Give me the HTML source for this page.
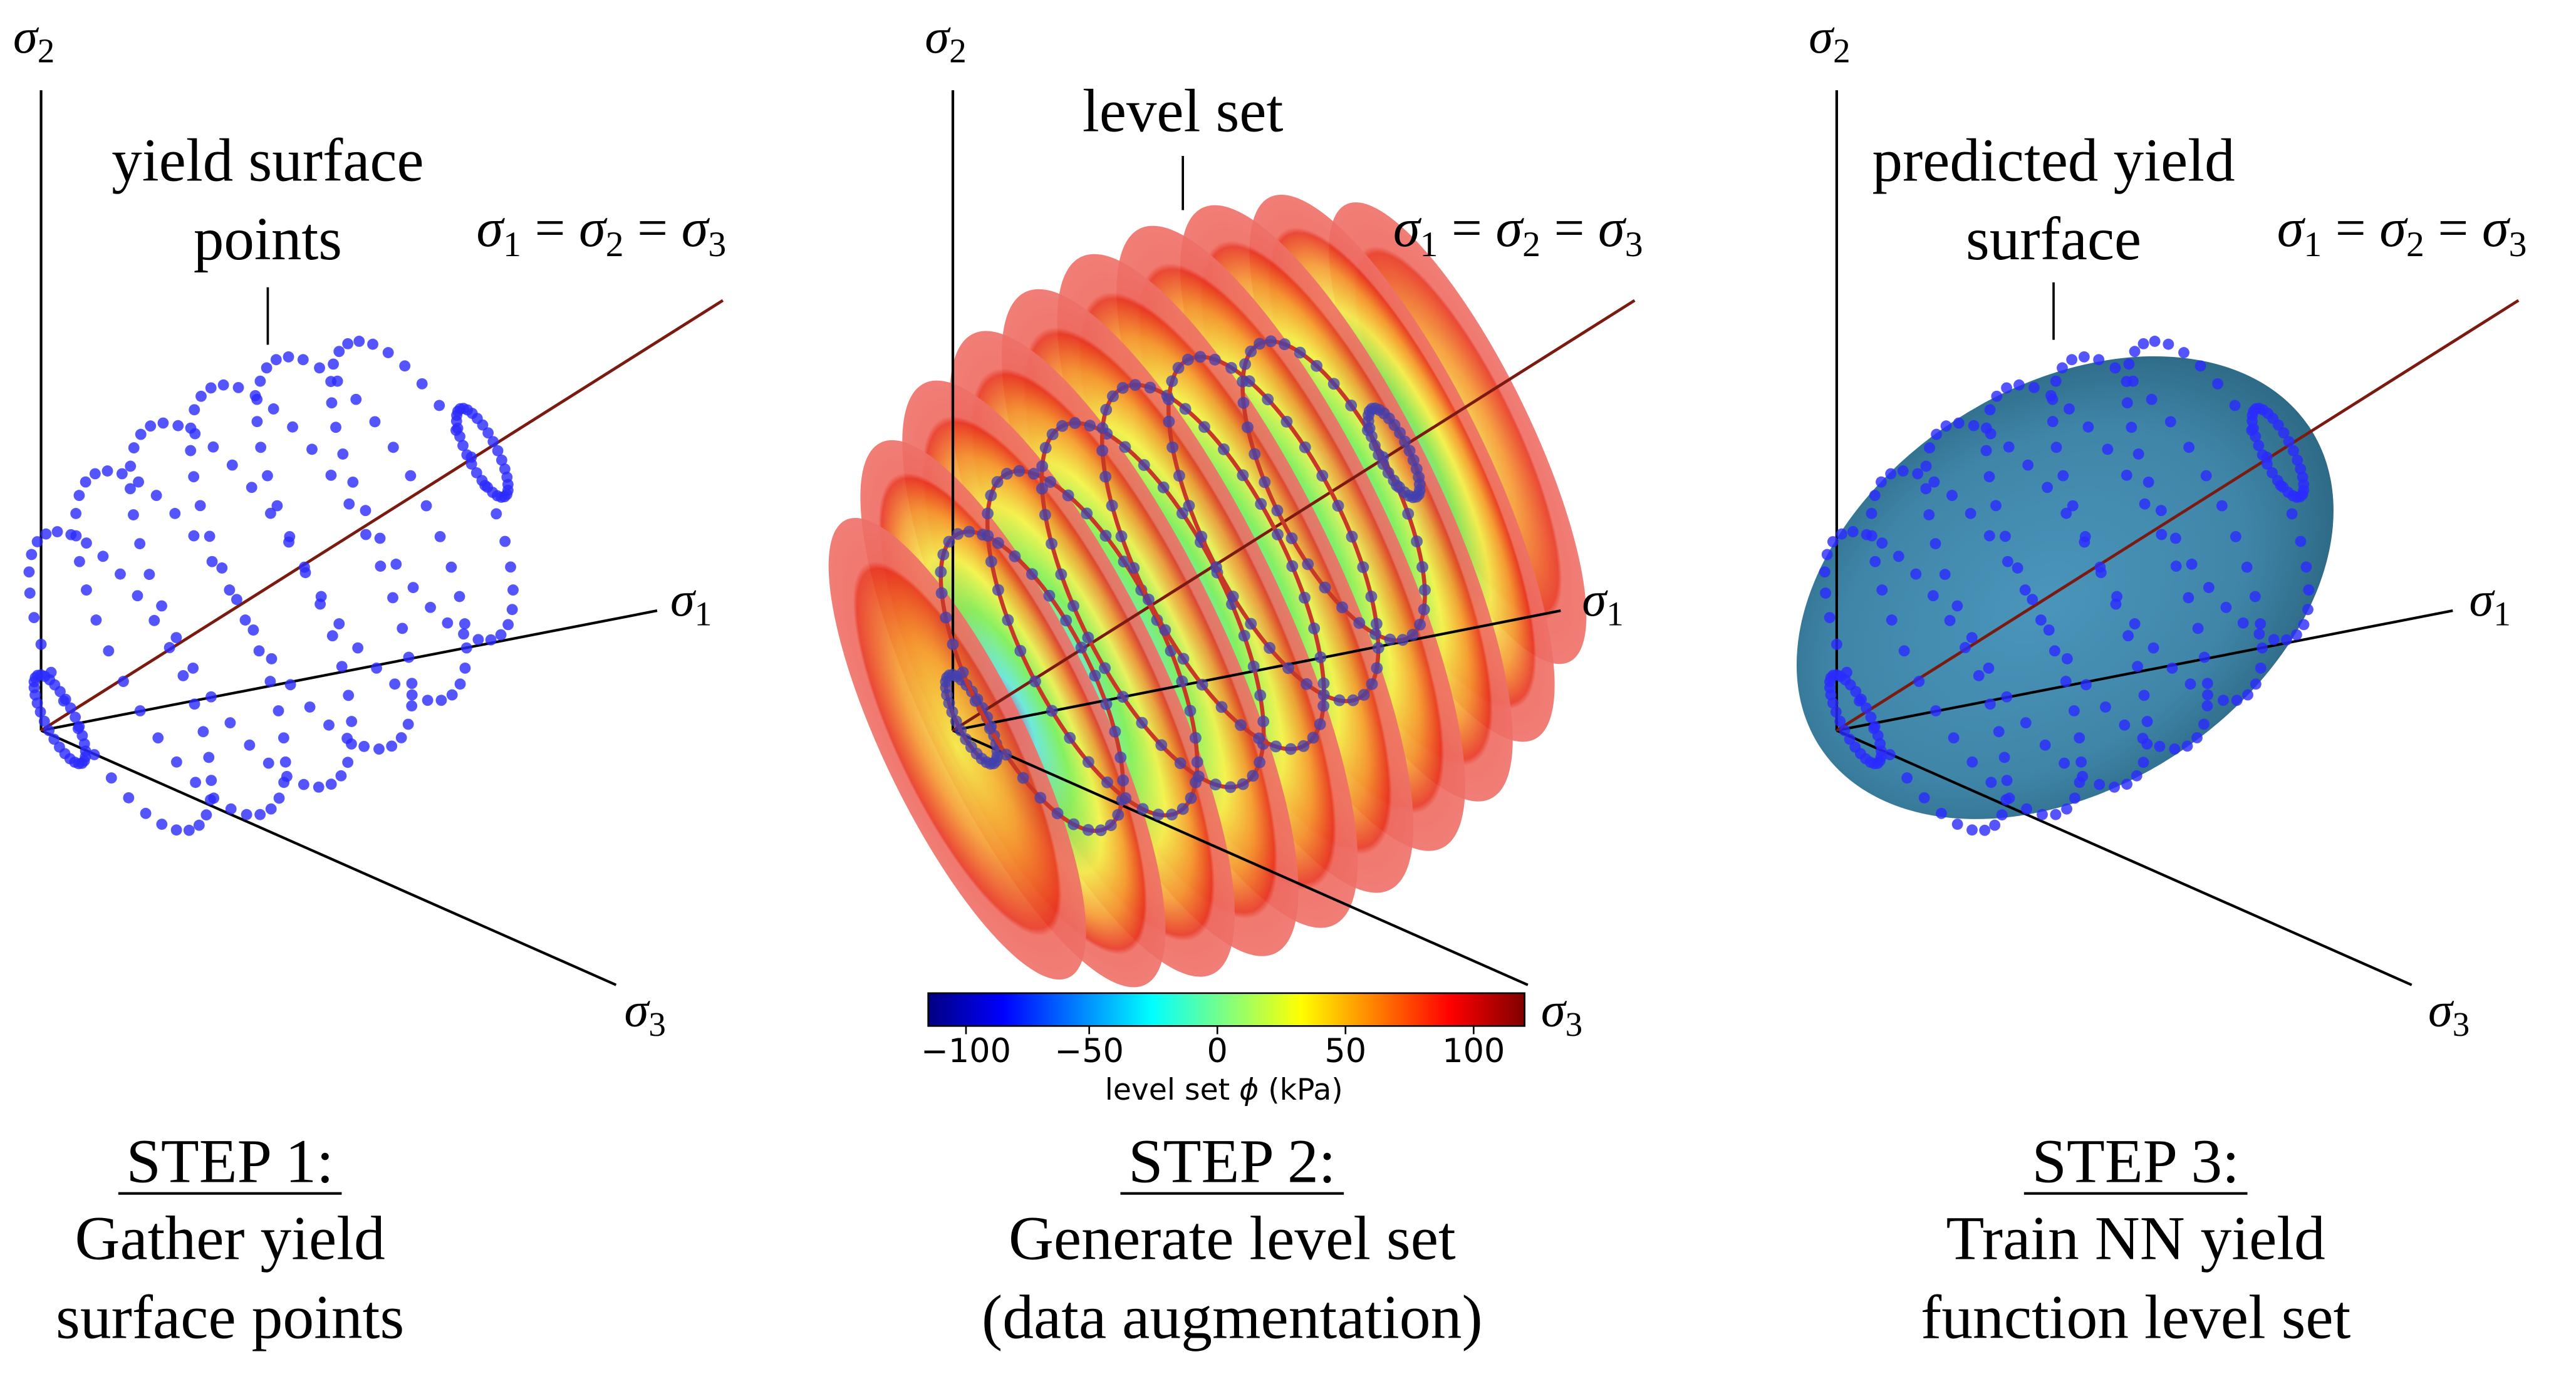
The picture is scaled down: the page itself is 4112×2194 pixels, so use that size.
<!DOCTYPE html>
<html><head><meta charset="utf-8"><style>
html,body{margin:0;padding:0;background:#fff;}
svg{display:block;}
text{font-family:"Liberation Serif",serif;}
</style></head><body>
<svg id="s" width="4112" height="2194" viewBox="0 0 1568 837" preserveAspectRatio="none" xmlns="http://www.w3.org/2000/svg">
<defs>
<radialGradient id="lg" cx="0.5" cy="0.5" r="0.5">
<stop offset="0" stop-color="#9a70c0"/>
<stop offset="0.15" stop-color="#60e8e8"/>
<stop offset="0.38" stop-color="#80f060"/>
<stop offset="0.58" stop-color="#f4f450"/>
<stop offset="0.74" stop-color="#f59a30"/>
<stop offset="0.86" stop-color="#e83520"/>
<stop offset="0.88" stop-color="#ee6a60"/>
<stop offset="1" stop-color="#ee7068"/>
</radialGradient>
<radialGradient id="lg2" cx="0.5" cy="0.5" r="0.5">
<stop offset="0" stop-color="#f4f450"/>
<stop offset="0.45" stop-color="#f59a30"/>
<stop offset="0.78" stop-color="#e83520"/>
<stop offset="0.81" stop-color="#ee6a60"/>
<stop offset="1" stop-color="#ee7068"/>
</radialGradient>
<radialGradient id="bg3" cx="0.45" cy="0.5" r="0.55">
<stop offset="0" stop-color="#4a95bb"/>
<stop offset="0.7" stop-color="#3f85a8"/>
<stop offset="1" stop-color="#2e6a86"/>
</radialGradient>
<linearGradient id="jet" x1="0" x2="1" y1="0" y2="0">
<stop offset="0" stop-color="#000080"/>
<stop offset="0.125" stop-color="#0000ff"/>
<stop offset="0.375" stop-color="#00ffff"/>
<stop offset="0.625" stop-color="#ffff00"/>
<stop offset="0.875" stop-color="#ff0000"/>
<stop offset="1" stop-color="#800000"/>
</linearGradient>
</defs>
<g id="g"></g>
</svg>
<script>
var g=document.getElementById('g'),h='';
function ln(x1,y1,x2,y2,c,w){h+='<line x1="'+x1+'" y1="'+y1+'" x2="'+x2+'" y2="'+y2+'" stroke="'+c+'" stroke-width="'+(w||1.6)+'"/>';}
function tx(x,y,s,fs,anc,extra){h+='<text x="'+x+'" y="'+y+'" font-size="'+fs+'" text-anchor="'+(anc||'middle')+'" '+(extra||'')+'>'+s+'</text>';}
function sig(x,y,n,fs){h+='<text x="'+x+'" y="'+y+'" font-size="'+fs+'" font-style="italic">σ<tspan font-size="'+(fs*0.7)+'" font-style="normal" dy="6">'+n+'</tspan></text>';}
function eqn(x,y){h+='<text x="'+x+'" y="'+y+'" font-size="33"><tspan font-style="italic">σ</tspan><tspan font-size="22" dy="6">1</tspan><tspan dy="-6"> = </tspan><tspan font-style="italic">σ</tspan><tspan font-size="22" dy="6">2</tspan><tspan dy="-6"> = </tspan><tspan font-style="italic">σ</tspan><tspan font-size="22" dy="6">3</tspan></text>';}
var d=[0.846,-0.534],u=[-0.45,-0.893],v=[0.893,-0.45],MN=0.36;
function rings(ox,oy,col,op,rad,line){
 var C=[ox+140,oy-88],L=152,N=8;
 for(var i=0;i<N;i++){
  var end=(i==0||i==N-1),t=-1+2*i/(N-1),r=end?30:25+98*Math.sqrt(Math.max(0,1-t*t*0.8)),cx=C[0]+d[0]*L*t,cy=C[1]+d[1]*L*t;
  var mn=end?0.3:MN,m=end?30:Math.round(16+r/6),pts=[];
  for(var k=0;k<m;k++){var a=2*Math.PI*k/m,p=[cx+u[0]*r*Math.cos(a)+v[0]*mn*r*Math.sin(a),cy+u[1]*r*Math.cos(a)+v[1]*mn*r*Math.sin(a)];pts.push(p);}
  if(line){h+='<ellipse cx="'+cx+'" cy="'+cy+'" rx="'+(mn*r)+'" ry="'+r+'" transform="rotate(-26.7 '+cx+' '+cy+')" fill="none" stroke="#c83828" stroke-width="2.5"/>';}
  pts.forEach(function(p){h+='<circle cx="'+p[0].toFixed(1)+'" cy="'+p[1].toFixed(1)+'" r="'+rad+'" fill="'+col+'" fill-opacity="'+op+'"/>';});
 }
}
function axes(ox,oy){
 ln(ox,oy,ox,55,'#000');
 ln(ox,oy,ox+375,oy-73,'#000');
 ln(ox,oy,ox+350,oy+155,'#000');
 ln(ox,oy,ox+415,oy-262,'#7a1a10',1.8);
}
// panel 1
axes(25,445);
rings(25,445,'#2a2aff',0.8,3.4,false);
sig(8,32,'2',30);sig(408,375,'1',30);sig(380,625,'3',30);eqn(290,150);
tx(163,110,'yield surface',37);tx(163,158,'points',37);ln(163,175,163,210,'#000',1.4);
// panel 2
var O2=[580,445],C2=[O2[0]+155,O2[1]-85];
for(var i=9;i>=0;i--){var t=-1+2*i/9,r=95+120*Math.sqrt(Math.max(0,1-t*t*0.75)),cx=C2[0]+d[0]*180*t,cy=C2[1]+d[1]*180*t;
 var end=(i==9||i==0);h+='<ellipse cx="'+cx+'" cy="'+cy+'" rx="'+(0.28*r)+'" ry="'+r+'" transform="rotate(-26 '+cx+' '+cy+')" fill="url(#'+(end?'lg2':'lg')+')" fill-opacity="0.9"/>';}
ln(O2[0],O2[1],O2[0],55,'#000');ln(O2[0],O2[1],O2[0]+370,O2[1]-73,'#000');ln(O2[0],O2[1],O2[0]+350,O2[1]+155,'#000');ln(O2[0],O2[1],O2[0]+415,O2[1]-262,'#7a1a10',1.8);
rings(O2[0],O2[1],'#4040b0',0.75,3.6,true);
sig(563,32,'2',30);sig(963,375,'1',30);sig(938,625,'3',30);eqn(848,150);
tx(720,80,'level set',37);ln(720,95,720,128,'#000',1.4);
h+='<rect x="565" y="605" width="363" height="20" fill="url(#jet)" stroke="#000" stroke-width="1"/>';
[[588,'−100'],[663,'−50'],[741,'0'],[819,'50'],[897,'100']].forEach(function(a){ln(a[0],625,a[0],630,'#000',1);h+='<text x="'+a[0]+'" y="647" font-size="20" text-anchor="middle" style="font-family:\'DejaVu Sans\',sans-serif">'+a[1]+'</text>';});
h+='<text x="745" y="670" font-size="18" text-anchor="middle" style="font-family:\'DejaVu Sans\',sans-serif">level set <tspan font-style="italic">ϕ</tspan> (kPa)</text>';
// panel 3
var O3=[1118,445];
h+='<ellipse cx="1257" cy="358" rx="178" ry="122" transform="rotate(-33 1257 358)" fill="url(#bg3)"/>';
axes(O3[0],O3[1]);
rings(O3[0],O3[1],'#2a2aff',0.8,3.4,false);
sig(1101,32,'2',30);sig(1503,375,'1',30);sig(1478,625,'3',30);eqn(1386,150);
tx(1250,110,'predicted yield',37);tx(1250,158,'surface',37);ln(1250,172,1250,207,'#000',1.4);
// bottom captions
function cap(x,lines){tx(x,720,'STEP '+lines[0]+':',38);ln(x-68,727,x+68,727,'#000',1.6);tx(x,767,lines[1],38);tx(x,815,lines[2],38);}
cap(140,['1','Gather yield','surface points']);
cap(750,['2','Generate level set','(data augmentation)']);
cap(1300,['3','Train NN yield','function level set']);
g.innerHTML=h;
</script>
</body></html>
